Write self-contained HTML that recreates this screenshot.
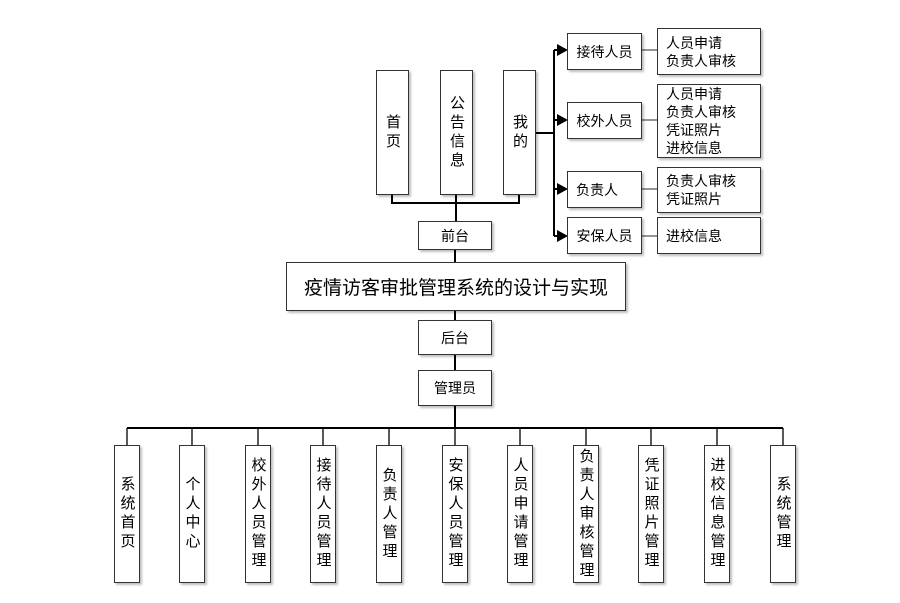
<!DOCTYPE html>
<html><head><meta charset="utf-8"><style>
body{margin:0;width:900px;height:603px;background:#fff;position:relative;overflow:hidden;font-family:"Liberation Sans","Noto Sans CJK SC",sans-serif;color:#000}
.b{position:absolute;box-sizing:border-box;border:1.5px solid #333;background:#fff;box-shadow:2px 2px 2px rgba(0,0,0,.25);display:flex;align-items:center;justify-content:center;font-size:14px;text-align:center}
.v{writing-mode:vertical-rl;text-orientation:upright;line-height:1;letter-spacing:4px;font-size:15px}
.l{justify-content:flex-start;padding-left:8px;text-align:left;line-height:18px}
svg{position:absolute;left:0;top:0}
</style></head><body>
<svg width="900" height="603">
<g stroke="#000" stroke-width="2" fill="none">
<path d="M392 195V203H519V195M456 195V221M455 250V262M455 311V320M455 355V370M455 406V428M127 428H783"/>
<path d="M127 428V445M192 428V445M258 428V445M323 428V445M389 428V445M455 428V445M520 428V445M586 428V445M651 428V445M717 428V445M783 428V445" stroke-width="1.3"/>
<path d="M536 133H554M554 50V236M554 50H558M554 120H558M554 189H558M554 236H558"/>
<path d="M642 50H657M642 120H657M642 189H657M642 236H657" stroke-width="1.3" stroke="#555"/>
</g>
<g fill="#000"><path d="M557 44L568 50L557 56Z"/><path d="M557 114L568 120L557 126Z"/><path d="M557 183L568 189L557 195Z"/><path d="M557 230L568 236L557 242Z"/></g>
</svg>
<div class="b v" style="left:376px;top:70px;width:33px;height:125px">首页</div>
<div class="b v" style="left:440px;top:70px;width:33px;height:125px">公告信息</div>
<div class="b v" style="left:503px;top:70px;width:33px;height:125px">我的</div>
<div class="b" style="left:418px;top:221px;width:74px;height:29px">前台</div>
<div class="b" style="left:286px;top:262px;width:340px;height:49px;font-size:19px">疫情访客审批管理系统的设计与实现</div>
<div class="b" style="left:418px;top:320px;width:74px;height:35px">后台</div>
<div class="b" style="left:418px;top:370px;width:74px;height:36px">管理员</div>
<div class="b" style="left:567px;top:33px;width:75px;height:37px">接待人员</div>
<div class="b" style="left:567px;top:102px;width:75px;height:37px">校外人员</div>
<div class="b l" style="left:567px;top:171px;width:75px;height:37px">负责人</div>
<div class="b" style="left:567px;top:217px;width:75px;height:37px">安保人员</div>
<div class="b l" style="left:657px;top:28px;width:104px;height:47px">人员申请<br>负责人审核</div>
<div class="b l" style="left:657px;top:84px;width:104px;height:74px">人员申请<br>负责人审核<br>凭证照片<br>进校信息</div>
<div class="b l" style="left:657px;top:167px;width:104px;height:46px">负责人审核<br>凭证照片</div>
<div class="b l" style="left:657px;top:217px;width:104px;height:37px">进校信息</div>
<div class="b v" style="left:114px;top:445px;width:26px;height:138px">系统首页</div>
<div class="b v" style="left:179px;top:445px;width:26px;height:138px">个人中心</div>
<div class="b v" style="left:245px;top:445px;width:26px;height:138px">校外人员管理</div>
<div class="b v" style="left:310px;top:445px;width:26px;height:138px">接待人员管理</div>
<div class="b v" style="left:376px;top:445px;width:26px;height:138px">负责人管理</div>
<div class="b v" style="left:442px;top:445px;width:26px;height:138px">安保人员管理</div>
<div class="b v" style="left:507px;top:445px;width:26px;height:138px">人员申请管理</div>
<div class="b v" style="left:573px;top:445px;width:26px;height:138px">负责人审核管理</div>
<div class="b v" style="left:638px;top:445px;width:26px;height:138px">凭证照片管理</div>
<div class="b v" style="left:704px;top:445px;width:26px;height:138px">进校信息管理</div>
<div class="b v" style="left:770px;top:445px;width:26px;height:138px">系统管理</div>
</body></html>
